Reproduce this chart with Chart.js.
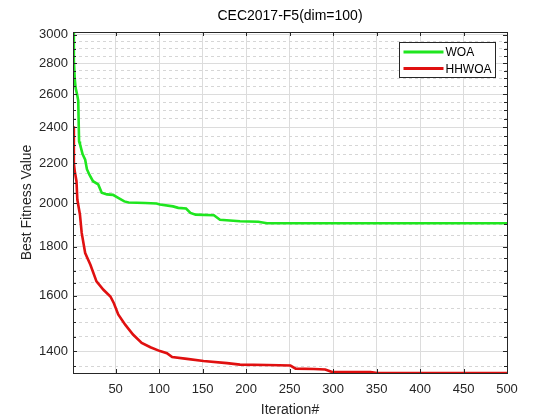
<html>
    <head>
        <style>
            body { margin: 0; background: #fff; }
        </style>
    </head>
    <body>
        <canvas id="graph" width="560" height="420"></canvas>
        <script src="https://cdn.jsdelivr.net/npm/chart.js@4.4.0/dist/chart.umd.min.js"></script>
        <script>

            // Convergence curves (iteration, best fitness)
            var woaIter = [1, 2, 3, 4, 6, 7, 8, 9, 12, 15, 17, 20, 24, 30, 34, 40, 47, 53, 60, 65, 84, 97, 101, 116, 122, 131, 136, 142, 163, 170, 193, 214, 224, 500];
            var woaFit = [3020, 2820, 2700, 2640, 2590, 2560, 2320, 2305, 2250, 2220, 2170, 2140, 2108, 2092, 2050, 2042, 2040, 2025, 2008, 2003, 2000, 1998, 1993, 1984, 1977, 1974, 1953, 1945, 1942, 1921, 1914, 1912, 1905, 1905];

            var hhwoaIter = [1, 2, 3, 5, 6, 9, 11, 15, 21, 28, 36, 44, 48, 53, 61, 70, 80, 90, 101, 109, 115, 132, 151, 178, 193, 224, 251, 257, 278, 291, 299, 343, 351, 500];
            var hhwoaFit = [2407, 2200, 2160, 2108, 2016, 1945, 1861, 1773, 1724, 1656, 1623, 1597, 1571, 1529, 1492, 1457, 1428, 1413, 1400, 1393, 1380, 1374, 1367, 1360, 1355, 1354, 1352, 1342, 1341, 1339, 1331, 1331, 1328, 1328];

            // Axis ticks
            var xTicks = [50, 100, 150, 200, 250, 300, 350, 400, 450, 500];
            var yTicks = [1400, 1600, 1800, 2000, 2200, 2400, 2600, 2800, 3000];
            var yMinorTicks = [1350, 1450, 1500, 1550, 1650, 1700, 1750, 1850, 1900, 1950,
                2050, 2100, 2150, 2250, 2300, 2350, 2450, 2500, 2550,
                2650, 2700, 2750, 2850, 2900, 2950];

            var xMin = 1, xMax = 500, yMin = 1328, yMax = 3020;

            var FONT = '"Liberation Sans", Arial, sans-serif';

            function toPoints(xs, ys) {
                return xs.map((x, i) => ({ x: x, y: ys[i] }));
            }

            // Box around the axes, inward ticks and the legend, MATLAB style
            var boxPlugin = {
                id: 'box',
                afterDraw(chart) {
                    var ctx = chart.ctx;
                    var a = chart.chartArea;
                    var sx = chart.scales.x, sy = chart.scales.y;
                    ctx.save();
                    ctx.strokeStyle = '#262626';
                    ctx.lineWidth = 1;
                    ctx.beginPath();
                    xTicks.forEach((v) => {
                        var px = Math.round(sx.getPixelForValue(v)) + 0.5;
                        ctx.moveTo(px, a.bottom); ctx.lineTo(px, a.bottom - 4);
                        ctx.moveTo(px, a.top); ctx.lineTo(px, a.top + 4);
                    });
                    yTicks.concat(yMinorTicks).forEach((v) => {
                        var len = yTicks.includes(v) ? 4 : 3;
                        var py = Math.round(sy.getPixelForValue(v)) + 0.5;
                        ctx.moveTo(a.left, py); ctx.lineTo(a.left + len, py);
                        ctx.moveTo(a.right, py); ctx.lineTo(a.right - len, py);
                    });
                    ctx.stroke();
                    ctx.strokeRect(Math.round(a.left) + 0.5, Math.round(a.top) + 0.5,
                        Math.round(a.right - a.left), Math.round(a.bottom - a.top));

                    // legend
                    var bx = Math.round(a.right - 108) + 0.5, by = Math.round(a.top + 10) + 0.5;
                    ctx.fillStyle = '#fff';
                    ctx.fillRect(bx, by, 96, 35);
                    ctx.strokeStyle = '#262626';
                    ctx.strokeRect(bx, by, 96, 35);
                    ctx.font = '12px ' + FONT;
                    ctx.textBaseline = 'middle';
                    chart.data.datasets.forEach((ds, i) => {
                        var ly = by + 9.5 + i * 16.5;
                        ctx.strokeStyle = ds.borderColor;
                        ctx.lineWidth = 3;
                        ctx.beginPath();
                        ctx.moveTo(bx + 4, ly); ctx.lineTo(bx + 44, ly);
                        ctx.stroke();
                        ctx.fillStyle = '#000';
                        ctx.fillText(ds.label, bx + 46, ly + 1);
                    });
                    ctx.restore();
                }
            };

            var ctx = document.getElementById('graph').getContext('2d');
            var chart = new Chart(ctx, {
                type: 'line',
                data: {
                    datasets: [{
                        label: 'WOA',
                        borderColor: '#1fe61f',
                        borderWidth: 2.6,
                        data: toPoints(woaIter, woaFit)
                    }, {
                        label: 'HHWOA',
                        borderColor: '#e01010',
                        borderWidth: 2.6,
                        data: toPoints(hhwoaIter, hhwoaFit)
                    }]
                },
                options: {
                    responsive: false,
                    animation: false,
                    layout: { padding: { left: 20 } },
                    elements: { point: { radius: 0 }, line: { tension: 0 } },
                    plugins: {
                        legend: { display: false },
                        tooltip: { enabled: false },
                        title: {
                            display: true,
                            text: 'CEC2017-F5(dim=100)',
                            color: '#000',
                            font: { family: FONT, size: 14, weight: 'normal' },
                            padding: { top: 8, bottom: 7.2 }
                        }
                    },
                    scales: {
                        x: {
                            type: 'linear',
                            min: xMin,
                            max: xMax,
                            afterBuildTicks: (axis) => { axis.ticks = xTicks.map((v) => ({ value: v })); },
                            afterFit: (axis) => { axis.height = 47; axis.paddingLeft = 0; axis.paddingRight = 0; },
                            ticks: {
                                autoSkip: false,
                                maxRotation: 0,
                                padding: 9,
                                color: '#262626',
                                font: { family: FONT, size: 13 }
                            },
                            grid: { color: '#dcdcdc', drawTicks: false },
                            border: { color: '#262626' },
                            title: {
                                display: true,
                                text: 'Iteration#',
                                color: '#262626',
                                font: { family: FONT, size: 14 },
                                padding: { top: 0, bottom: 1 }
                            }
                        },
                        y: {
                            type: 'logarithmic',
                            min: yMin,
                            max: yMax,
                            afterBuildTicks: (axis) => { axis.ticks = yTicks.map((v) => ({ value: v })); },
                            afterFit: (axis) => { axis.width = 53; axis.paddingTop = 0; axis.paddingBottom = 0; },
                            ticks: {
                                autoSkip: false,
                                padding: 5,
                                color: '#262626',
                                font: { family: FONT, size: 13 },
                                callback: (v) => String(v)
                            },
                            grid: { color: '#dcdcdc', drawTicks: false },
                            border: { color: '#262626' },
                            title: {
                                display: true,
                                text: 'Best Fitness Value',
                                color: '#262626',
                                font: { family: FONT, size: 14, lineHeight: 1 },
                                padding: { top: 0, bottom: 0 }
                            }
                        },
                        yMinor: {
                            type: 'logarithmic',
                            position: 'left',
                            min: yMin,
                            max: yMax,
                            afterBuildTicks: (axis) => { axis.ticks = yMinorTicks.map((v) => ({ value: v })); },
                            afterFit: (axis) => { axis.width = 0; axis.paddingTop = 0; axis.paddingBottom = 0; },
                            ticks: { display: false },
                            grid: { color: '#d6d6d6', drawTicks: false },
                            border: { display: false, dash: [3, 3] }
                        },
                        // empty right-hand strip so the title centres over the plot
                        yRight: {
                            type: 'linear',
                            position: 'right',
                            min: 0,
                            max: 1,
                            afterFit: (axis) => { axis.width = 53; axis.paddingTop = 0; axis.paddingBottom = 0; },
                            ticks: { display: false },
                            grid: { display: false, drawTicks: false },
                            border: { display: false }
                        }
                    }
                },
                plugins: [boxPlugin]
            });
        </script>
    </body>
</html>
